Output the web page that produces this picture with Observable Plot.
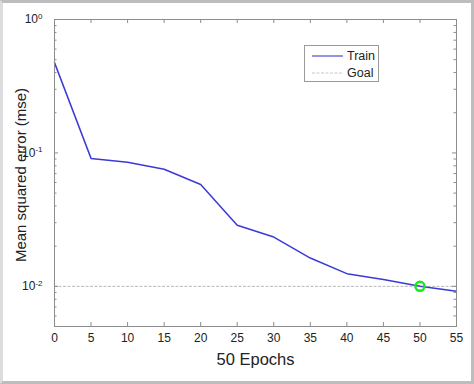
<!DOCTYPE html>
<html>
<head>
<meta charset="utf-8">
<script src="https://cdn.jsdelivr.net/npm/d3@7"></script>
<script src="https://cdn.jsdelivr.net/npm/@observablehq/plot@0.6"></script>
<style>
  html, body { margin: 0; padding: 0; background: #fff; }
  #wrap { position: relative; width: 474px; height: 384px; overflow: hidden; font-family: "Liberation Sans", Arial, sans-serif; }
  #wrap > svg { position: absolute; left: 0; top: 0; }
  #border { position: absolute; left: 0; top: 0; width: 474px; height: 384px; box-sizing: border-box;
            border-style: solid; border-width: 3px 3px 3px 3px; border-color: #bdbdbd #bdbdbd #bdbdbd #dcdcdc; pointer-events: none; }
  #legend { position: absolute; left: 304px; top: 45px; width: 75px; height: 37px; box-sizing: border-box;
            border: 1px solid #9a9a9a; background: #fff; font-size: 12.5px; color: #222; }
  .row { position: absolute; left: 0; height: 14px; display: flex; align-items: center; }
  .sw { display: block; width: 31px; margin-left: 7px; margin-right: 4px; }
</style>
</head>
<body>
<div id="wrap"></div>
<script>
// ---- data ----
const epochs = [0, 5, 10, 15, 20, 25, 30, 35, 40, 45, 50, 55];
const trainMse = [0.475, 0.091, 0.085, 0.0755, 0.058, 0.0287, 0.0234, 0.0163, 0.01245, 0.01124, 0.0100, 0.0092];
const goalMse = [0.01];
const bestEpoch = [50];
const bestMse = [0.0100];
const xTicks = [0, 5, 10, 15, 20, 25, 30, 35, 40, 45, 50, 55];
const yMajorTicks = [1, 0.1, 0.01];
const yMajorExponents = ["0", "-1", "-2"];
const yMinorTicks = [0.005, 0.006, 0.007, 0.008, 0.009, 0.02, 0.03, 0.04, 0.05, 0.06, 0.07, 0.08, 0.09,
                     0.2, 0.3, 0.4, 0.5, 0.6, 0.7, 0.8, 0.9];
const xLabel = ["50 Epochs"];
const yLabel = ["Mean squared error (mse)"];
const seriesNames = ["Train", "Goal"];

const train = epochs.map((e, i) => ({epoch: e, mse: trainMse[i]}));
const best = bestEpoch.map((e, i) => ({epoch: e, mse: bestMse[i]}));

const W = 474, H = 384, mT = 19, mR = 18, mB = 58, mL = 54;
const frameW = W - mL - mR, frameH = H - mT - mB;
const frameColor = "#8c8c8c";
const tk = {stroke: frameColor, strokeWidth: 1};

const chart = Plot.plot({
  width: W,
  height: H,
  marginTop: mT,
  marginRight: mR,
  marginBottom: mB,
  marginLeft: mL,
  style: {fontFamily: "Liberation Sans, Arial, sans-serif", fontSize: "12px", color: "#222", background: "transparent"},
  x: {domain: [0, 55]},
  y: {type: "log", domain: [0.005, 1]},
  marks: [
    Plot.ruleY(goalMse, {stroke: "#b8b8b8", strokeWidth: 1, strokeDasharray: "3,1.5"}),
    Plot.line(train, {x: "epoch", y: "mse", stroke: "#3a3ad8", strokeWidth: 1.5}),
    Plot.dot(best, {x: "epoch", y: "mse", r: 4.5, stroke: "#1ee61e", strokeWidth: 2.5, fill: "none"}),
    // inward ticks on all four sides
    Plot.ruleX(xTicks, {...tk, x: d => d, insetTop: frameH - 4}),
    Plot.ruleX(xTicks, {...tk, x: d => d, insetBottom: frameH - 4}),
    Plot.ruleY(yMajorTicks, {...tk, y: d => d, insetRight: frameW - 4}),
    Plot.ruleY(yMajorTicks, {...tk, y: d => d, insetLeft: frameW - 4}),
    Plot.ruleY(yMinorTicks, {...tk, y: d => d, insetRight: frameW - 2.5}),
    Plot.ruleY(yMinorTicks, {...tk, y: d => d, insetLeft: frameW - 2.5}),
    Plot.frame({stroke: frameColor}),
    // tick labels
    Plot.axisX({ticks: xTicks, tickSize: 0, tickPadding: 7, anchor: "bottom", label: null, fontSize: 12, stroke: "none", fill: "#222", tickFormat: d => String(d)}),
    Plot.axisY({ticks: yMajorTicks, tickSize: 0, tickPadding: 12, anchor: "left", label: null, fontSize: 12, stroke: "none", fill: "#222", tickFormat: d => "10"}),
    Plot.text(xLabel, {frameAnchor: "bottom", dy: 38, fontSize: 16.5, fill: "#222"}),
    Plot.text(yLabel, {frameAnchor: "left", dx: -33, dy: 2, rotate: -90, textAnchor: "middle", fontSize: 15, fill: "#222"})
  ]
});

// add superscript exponents to y tick labels (bound datum is the tick index)
d3.select(chart).selectAll('g[aria-label="y-axis tick label"] text').each(function(i) {
  const e = yMajorExponents[i];
  if (e === undefined) return;
  const t = d3.select(this);
  t.text("10");
  t.append("tspan").attr("dy", "-0.55em").attr("font-size", "8px").text(e);
});

const wrap = document.getElementById("wrap");
wrap.appendChild(chart);

// legend
const legend = document.createElement("div");
legend.id = "legend";
const colors = ["#6f6fe0", "#c8c8c8"];
const dashes = [null, "3,1.5"];
seriesNames.forEach((name, i) => {
  const row = document.createElement("div");
  row.className = "row";
  row.style.top = (3 + i * 17) + "px";
  row.innerHTML = `<svg class="sw" width="31" height="4"><line x1="0" x2="31" y1="2" y2="2" stroke="${colors[i]}" stroke-width="${i ? 1 : 1.5}" ${dashes[i] ? `stroke-dasharray="${dashes[i]}"` : ""}/></svg><span>${name}</span>`;
  legend.appendChild(row);
});
wrap.appendChild(legend);

const border = document.createElement("div");
border.id = "border";
wrap.appendChild(border);
</script>
</body>
</html>
